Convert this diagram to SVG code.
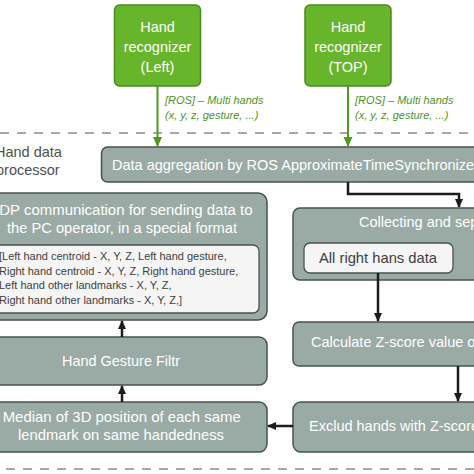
<svg xmlns="http://www.w3.org/2000/svg" width="474" height="474" viewBox="0 0 474 474">
<defs>
<style>
.green{fill:#67b52b;stroke:#4b8a1f;stroke-width:1.5}
.gray{fill:#9aaaa5;stroke:#48534f;stroke-width:1.5}
.white{fill:#f4f5f4;stroke:#48534f;stroke-width:1.3}
.t{font-family:"Liberation Sans",Arial,sans-serif}
.wt{fill:#ffffff;font-size:14.5px}
.dk{fill:#404040}
.lbl{fill:#4f9326;font-size:11px;font-style:italic}
.dash{stroke:#a8a8a8;stroke-width:2;stroke-dasharray:9 8;fill:none}
.ga{stroke:#4e9a1e;stroke-width:2;fill:none}
.ba{stroke:#1c1c1c;stroke-width:2.5;fill:none}
</style>
<marker id="ag" markerUnits="userSpaceOnUse" markerWidth="10" markerHeight="10" viewBox="0 0 10 10" refX="9" refY="5" orient="auto">
<path d="M0,0.5 L10,5 L0,9.5 z" fill="#4e9a1e"/>
</marker>
<marker id="ab" markerUnits="userSpaceOnUse" markerWidth="9" markerHeight="9" viewBox="0 0 10 10" refX="9" refY="5" orient="auto">
<path d="M0,0.5 L10,5 L0,9.5 z" fill="#1c1c1c"/>
</marker>
</defs>
<rect width="474" height="474" fill="#ffffff"/>
<line class="dash" x1="0" y1="133" x2="474" y2="133"/>
<line class="dash" x1="6" y1="469" x2="474" y2="469"/>
<text class="t" x="-5" y="157" font-size="14.5" fill="#505050">Hand data</text>
<text class="t" x="-4" y="175" font-size="14.5" fill="#505050">processor</text>

<g id="hand-recognizer-left">
<rect class="green" x="114.5" y="5" width="86" height="81" rx="5"/>
<text class="t wt" text-anchor="middle"><tspan x="157.5" y="32">Hand</tspan><tspan x="157.5" y="52">recognizer</tspan><tspan x="157.5" y="72">(Left)</tspan></text>
</g>
<g id="hand-recognizer-top">
<rect class="green" x="305" y="5" width="86" height="81" rx="5"/>
<text class="t wt" text-anchor="middle"><tspan x="348" y="32">Hand</tspan><tspan x="348" y="52">recognizer</tspan><tspan x="348" y="72">(TOP)</tspan></text>
</g>

<g id="data-aggregation">
<rect class="gray" x="101.5" y="147" width="400" height="35" rx="6"/>
<text class="t wt" x="112" y="170">Data aggregation by ROS ApproximateTimeSynchronize</text>
</g>

<g id="udp-communication">
<rect class="gray" x="-25" y="193" width="292" height="127" rx="9"/>
<text class="t wt" font-size="15" text-anchor="middle" x="120.5" y="215" textLength="264" lengthAdjust="spacingAndGlyphs">UDP communication for sending data to</text>
<text class="t wt" font-size="15" text-anchor="middle" x="122" y="233" textLength="230" lengthAdjust="spacingAndGlyphs">the PC operator, in a special format</text>
<rect class="white" x="-12" y="245" width="271" height="68" rx="6"/>
<text class="t dk" font-size="11"><tspan x="-1" y="260">[Left hand centroid - X, Y, Z, Left hand gesture,</tspan><tspan x="-1" y="274.5">Right hand centroid - X, Y, Z, Right hand gesture,</tspan><tspan x="-1" y="289">Left hand other landmarks - X, Y, Z,</tspan><tspan x="-1" y="303.5">Right hand other landmarks - X, Y, Z,]</tspan></text>
</g>

<g id="collecting">
<rect class="gray" x="293" y="208" width="210" height="72" rx="7"/>
<text class="t wt" x="359" y="227">Collecting and sep</text>
<rect class="white" x="304" y="243" width="149" height="30" rx="6"/>
<text class="t dk" font-size="14.5" x="319" y="263" textLength="118" lengthAdjust="spacingAndGlyphs">All right hans data</text>
</g>

<g id="calculate-zscore">
<rect class="gray" x="293" y="322" width="210" height="44" rx="6"/>
<text class="t wt" x="311" y="347">Calculate Z-score value o</text>
</g>

<g id="exclude-hands">
<rect class="gray" x="293" y="402" width="210" height="50" rx="8"/>
<text class="t wt" x="309" y="431">Exclud hands with Z-score</text>
</g>

<g id="hand-gesture-filter">
<rect class="gray" x="-25" y="337" width="292" height="48" rx="8"/>
<text class="t wt" text-anchor="middle" x="121" y="366" textLength="118" lengthAdjust="spacingAndGlyphs">Hand Gesture Filtr</text>
</g>

<g id="median">
<rect class="gray" x="-25" y="402" width="292" height="50" rx="8"/>
<text class="t wt" text-anchor="middle" x="121.7" y="422" textLength="238" lengthAdjust="spacingAndGlyphs">Median of 3D position  of each same</text>
<text class="t wt" text-anchor="middle" x="121" y="440" textLength="206" lengthAdjust="spacingAndGlyphs">lendmark on same handedness</text>
</g>

<g id="connectors">
<path class="ga" d="M157.5 86 V146" marker-end="url(#ag)"/>
<path class="ga" d="M348 86 V146" marker-end="url(#ag)"/>
<text class="t lbl"><tspan x="165" y="104">[ROS] – Multi hands</tspan><tspan x="165" y="119">(x, y, z, gesture, ...)</tspan></text>
<text class="t lbl"><tspan x="355" y="104">[ROS] – Multi hands</tspan><tspan x="355" y="119">(x, y, z, gesture, ...)</tspan></text>
<path class="ba" d="M348 182 V194 H459 V207" marker-end="url(#ab)"/>
<path class="ba" d="M378 273 V321" marker-end="url(#ab)"/>
<path class="ba" d="M458 366 V401" marker-end="url(#ab)"/>
<path class="ba" d="M293 426 H268" marker-end="url(#ab)"/>
<path class="ba" d="M122 402 V386" marker-end="url(#ab)"/>
<path class="ba" d="M122 337 V321" marker-end="url(#ab)"/>
</g>
</svg>
